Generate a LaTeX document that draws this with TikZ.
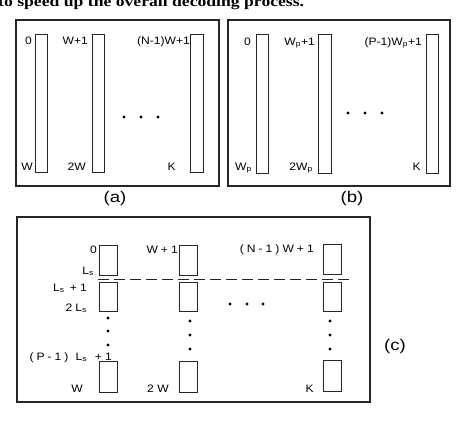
\documentclass[tikz,border=0pt]{standalone}
\usepackage{fontspec}
\setmainfont{Liberation Sans}
\newfontfamily\lab{Liberation Sans}[FakeStretch=1.12]
\newfontfamily\labcap{Liberation Sans}[FakeStretch=1.2]
\newfontfamily\labsp{Liberation Sans}[FakeStretch=1.12,LetterSpace=28]
\newfontfamily\serifbold{Liberation Serif}[FakeStretch=1.2]
\newcommand{\gapsp}[1]{\hspace{#1}}
\begin{document}
\begin{tikzpicture}[x=1pt,y=-1pt,
  frame/.style={draw=black!85, line width=1.2pt, inner sep=0pt, outer sep=0pt},
  bar/.style={draw=black!85, line width=0.9pt, inner sep=0pt, outer sep=0pt},
  barab/.style={bar, minimum width=12.5pt, minimum height=138.5pt},
  barc/.style={bar, minimum width=18pt, minimum height=29.5pt},
  lbl/.style={font=\lab\fontsize{10.8}{13}\selectfont, inner sep=0pt, anchor=base east},
  lblc/.style={font=\labsp\fontsize{10.8}{13}\selectfont, inner sep=0pt, anchor=base east},
  panelcap/.style={font=\labcap\fontsize{15.5}{18}\selectfont, inner sep=0pt},
  dot/.style={circle, fill=black, inner sep=0pt, minimum size=3.2pt},
  sep/.style={draw=black!85, line width=0.9pt, dash pattern=on 11pt off 5pt}]
\useasboundingbox (0,0) rectangle (474,421);

% partial text of the page above the figure (cut at the top edge, as in the reference)
\node[font=\serifbold\bfseries\fontsize{14.7}{17}\selectfont, inner sep=0pt, anchor=base west] (toptext) at (-2,6) {to speed up the overall decoding process.};

% ---------- panel (a) ----------
\node[frame, minimum width=203pt, minimum height=166pt] (fa) at (117.5,103) {};
\node[barab] (a1) at (41.5,103.5) {};
\node[barab] (a2) at (98.5,103.5) {};
\node[barab] (a3) at (197,103.5) {};
\node[lbl] (la1t) at (32,44) {0};
\node[lbl] (la2t) at (88,44) {W+1};
\node[lbl] (la3t) at (190,44) {(N-1)W+1};
\node[lbl] (la1b) at (33,170) {W};
\node[lbl] (la2b) at (86,170) {2W};
\node[lbl] (la3b) at (176,170) {K};
\node[dot] (da1) at (124,117) {};
\node[dot] (da2) at (141,117) {};
\node[dot] (da3) at (158,117) {};
\node[panelcap] (capa) at (115,198) {(a)};

% ---------- panel (b) ----------
\node[frame, minimum width=222pt, minimum height=166pt] (fb) at (339,103) {};
\node[barab] (b1) at (262.5,104) {};
\node[barab] (b2) at (325,104) {};
\node[barab] (b3) at (432.5,104) {};
\node[lbl] (lb1t) at (251,45) {0};
\node[lbl] (lb2t) at (315,45) {W\textsubscript{p}+1};
\node[lbl] (lb3t) at (422,45) {(P-1)W\textsubscript{p}+1};
\node[lbl] (lb1b) at (252,170) {W\textsubscript{p}};
\node[lbl] (lb2b) at (313,170) {2W\textsubscript{p}};
\node[lbl] (lb3b) at (421,170) {K};
\node[dot] (db1) at (348,113) {};
\node[dot] (db2) at (365,113) {};
\node[dot] (db3) at (382,113) {};
\node[panelcap] (capb) at (352,198) {(b)};

% ---------- panel (c) ----------
\node[frame, minimum width=353pt, minimum height=185pt] (fc) at (193.5,309.5) {};
% column 1
\node[barc] (c11) at (108,260.5) {};
\node[barc] (c12) at (108,297) {};
\node[barc, minimum height=31pt] (c13) at (108,376.5) {};
% column 2
\node[barc] (c21) at (188.5,260.5) {};
\node[barc] (c22) at (188.5,297) {};
\node[barc, minimum height=31pt] (c23) at (188.5,376.5) {};
% column 3
\node[barc] (c31) at (332,259.5) {};
\node[barc] (c32) at (332,297) {};
\node[barc, minimum height=31pt] (c33) at (332,375.5) {};
% dashed separation line
\coordinate (dl) at (98,279);
\coordinate (dr) at (351,279);
\draw[sep] (dl) -- (dr);
% labels
\node[lblc] (lc1t) at (97,253) {0};
\node[lblc] (lc2t) at (178,253) {W+1};
\node[lblc] (lc3t) at (314,252) {(N-1)W+1};
\node[lblc] (lcls) at (94,274) {L\textsubscript{s}};
\node[lblc] (lcls1) at (87,291) {L\textsubscript{s}\gapsp{5.5pt}+1};
\node[lblc] (lc2ls) at (87,311) {2\gapsp{3pt}L\textsubscript{s}};
\node[lblc] (lcp) at (112,360) {(P-1)\gapsp{7pt}L\textsubscript{s}\gapsp{8pt}+1};
\node[lblc] (lc1b) at (83,392) {W};
\node[lblc] (lc2b) at (169,392) {2\gapsp{3.5pt}W};
\node[lblc] (lc3b) at (314,392) {K};
% dots
\node[dot] (dc1) at (230,304) {};
\node[dot] (dc2) at (247,304) {};
\node[dot] (dc3) at (263,304) {};
\node[dot] (v11) at (108,318) {};
\node[dot] (v12) at (108,331) {};
\node[dot] (v13) at (108,345) {};
\node[dot] (v21) at (190,321) {};
\node[dot] (v22) at (190,335) {};
\node[dot] (v23) at (190,349) {};
\node[dot] (v31) at (330,321) {};
\node[dot] (v32) at (330,335) {};
\node[dot] (v33) at (330,349) {};
\node[panelcap] (capc) at (395,346) {(c)};
\end{tikzpicture}
\end{document}
